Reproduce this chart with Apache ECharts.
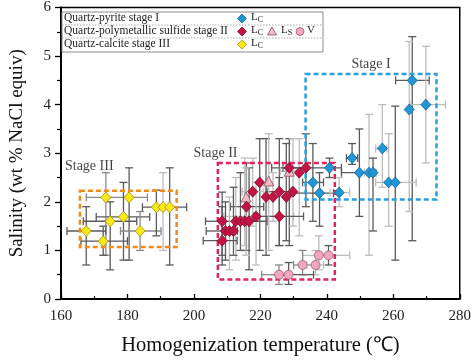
<!DOCTYPE html>
<html><head><meta charset="utf-8">
<script src="https://cdn.jsdelivr.net/npm/echarts@6/dist/echarts.min.js"></script>
<style>html,body{margin:0;padding:0;background:#fff}#c{width:474px;height:361px}</style>
</head><body><div id="c"></div>
<script>
// ---- axis ----
const xMin = 160, xMax = 280, xStep = 20;
const yMin = 0, yMax = 6, yStep = 1;
const xTitle = 'Homogenization temperature (℃)';
const yTitle = 'Salinity (wt % NaCl equiv)';

// ---- Stage I (quartz-pyrite), L_C ----
const s1T = [265.7, 264.8, 269.8, 256.7, 247.6, 240.8, 235.8, 237.8, 243.7, 249.8, 252.7, 253.9, 258.6, 260.6];
const s1S = [4.5, 3.9, 4.0, 3.1, 2.9, 2.7, 2.4, 2.18, 2.19, 2.6, 2.6, 2.6, 2.4, 2.4];
// [Tlow, Thigh, Slow, Shigh, shade]
const s1Err = [[260.7,270.8,1.2,5.4,'d'],[null,null,1.8,5.3,'l'],[265,275.7,2.8,5.2,'l'],[254.7,258.1,2.3,4.0,'l'],
  [245.9,249.3,2.77,3.2,'d'],[226.8,244.4,2.5,2.9,'d'],[232.7,239,1.6,3.2,'d'],[229.2,242,1.5,2.6,'d'],
  [241,246.9,1.9,2.5,'l'],[244.4,254.7,1.7,3.5,'d'],[251.3,254.7,0.9,3.8,'l'],[null,null,1.4,2.9,'d'],
  [254.7,266.9,1.5,3.4,'l'],[null,null,0.8,3.97,'d']];

// ---- Stage II (quartz-polymetallic sulfide), L_C ----
const s2T = [228.7, 231.7, 233.7, 219.8, 217.7, 221.7, 223.8, 225.7, 227.8, 229.8, 215.8, 218.7, 225.7, 208.5, 212.6, 214.0, 215.3, 216.6, 209.5, 210.7, 211.9, 208.5];
const s2S = [2.7, 2.6, 2.7, 2.4, 2.21, 2.1, 2.1, 2.21, 2.1, 2.21, 1.9, 1.7, 1.7, 1.6, 1.6, 1.6, 1.6, 1.6, 1.4, 1.4, 1.4, 1.2];
const s2Err = [[223.4,234.1,1.1,3.3,'d'],[null,null,1.3,3.3,'l'],[null,null,1.9,3.4,'d'],[null,null,1.0,3.3,'d'],
  [214.5,221,1.5,2.9,'l'],[null,null,0.9,3.3,'d'],[null,null,1.6,2.6,'l'],[222,229.4,1.1,3.3,'d'],
  [null,null,1.2,3.2,'d'],[null,null,1.5,3.3,'l'],[211,221,1.0,2.8,'d'],[209,230,0.7,2.4,'l'],
  [218,233,1.1,2.5,'d'],[203.5,212,0.9,2.2,'d'],[null,null,0.8,2.5,'l'],[null,null,1.0,2.6,'d'],
  [null,null,1.1,2.9,'l'],[212,222,0.6,2.7,'d'],[203.7,213.1,0.8,2.0,'d'],[null,null,0.6,2.1,'l'],
  [null,null,0.9,2.3,'d'],[202.8,213,0.7,1.9,'d']];
// Stage II, L_S
const lsT = [228.7, 222.5, 215.7];
const lsS = [2.63, 2.43, 2.1];
const lsErr = [[226,231.5,null,null,'l'],[null,null,1.0,3.4,'l'],[null,null,0.9,2.7,'l']];
// Stage II, V
const vT = [237.6, 240.5, 232.7, 236.6, 225.6, 228.5];
const vS = [0.9, 0.9, 0.7, 0.7, 0.5, 0.5];
const vErr = [[232.7,246.9,0.6,1.3,'l'],[null,null,0.7,1.1,'d'],[230,236,0.5,1.0,'m'],[234,239,0.5,1.0,'l'],
  [220.4,229.2,0.3,0.7,'m'],[225,236,0.3,0.75,'d']];

// ---- Stage III (quartz-calcite), L_C ----
const s3T = [173.5, 180.5, 178.8, 174.8, 167.6, 183.8, 172.7, 188.7, 190.7, 192.7];
const s3S = [2.09, 2.09, 1.69, 1.6, 1.4, 1.4, 1.19, 1.89, 1.89, 1.89];
const s3Err = [[167.6,186,0.9,2.6,'m'],[null,null,0.8,2.7,'d'],[170.6,186.7,0.8,2.4,'d'],[166.7,182.8,0.6,2.0,'d'],
  [161.8,173.5,0.7,1.9,'d'],[177.9,190.1,1.0,1.8,'m'],[166,180,0.9,1.5,'d'],[184.5,197.8,1.3,2.24,'d'],
  [null,null,1.0,2.6,'l'],[null,null,0.7,2.7,'d']];

// ---- stage boxes [Tmin, Smin, Tmax, Smax] and labels ----
const boxNames = ['Stage I', 'Stage II', 'Stage III'];
const boxes = [[233.6, 2.05, 273, 4.63], [207.2, 0.4, 242.4, 2.8], [165.7, 1.07, 194.8, 2.23]];
const boxLabelPos = [[253.3, 4.83], [206.5, 3.0], [168.5, 2.74]];

const serif = 'Liberation Serif';
const shade = {d: '#5a5a5a', m: '#8a8a8a', l: '#bdbdbd'};
const boxColors = ['#2a9fe0', '#e0245c', '#f08c1c'];

function errData(T, S, E) { return T.map((t, i) => [t, S[i], E[i][0], E[i][1], E[i][2], E[i][3], E[i][4]]); }

function errSeries(T, S, E) {
  const rows = errData(T, S, E);
  return {
    type: 'custom', z: 1, silent: true,
    data: rows,
    renderItem: function (params, api) {
      const x = api.value(0), y = api.value(1);
      const d = rows[params.dataIndex];
      const col = shade[d[6]];
      const st = {stroke: col, lineWidth: 1.3};
      const ch = [];
      const cap = 4;
      if (d[4] != null) {
        const a = api.coord([x, d[4]]), b = api.coord([x, d[5]]);
        ch.push({type: 'line', shape: {x1: a[0], y1: a[1], x2: b[0], y2: b[1]}, style: st});
        ch.push({type: 'line', shape: {x1: a[0]-cap, y1: a[1], x2: a[0]+cap, y2: a[1]}, style: st});
        ch.push({type: 'line', shape: {x1: b[0]-cap, y1: b[1], x2: b[0]+cap, y2: b[1]}, style: st});
      }
      if (d[2] != null) {
        const a = api.coord([d[2], y]), b = api.coord([d[3], y]);
        ch.push({type: 'line', shape: {x1: a[0], y1: a[1], x2: b[0], y2: b[1]}, style: st});
        ch.push({type: 'line', shape: {x1: a[0], y1: a[1]-cap, x2: a[0], y2: a[1]+cap}, style: st});
        ch.push({type: 'line', shape: {x1: b[0], y1: b[1]-cap, x2: b[0], y2: b[1]+cap}, style: st});
      }
      return {type: 'group', children: ch};
    }
  };
}

function pts(T, S) { return T.map((t, i) => [t, S[i]]); }

const boxSeries = {
  type: 'custom', z: 2, silent: true,
  data: boxes.map((b, i) => [b[0], b[1], b[2], b[3], i]),
  renderItem: function (params, api) {
    const b = boxes[params.dataIndex];
    const p1 = api.coord([b[0], b[3]]), p2 = api.coord([b[2], b[1]]);
    return {type: 'rect', shape: {x: p1[0], y: p1[1], width: p2[0]-p1[0], height: p2[1]-p1[1]},
      style: {fill: 'none', stroke: boxColors[params.dataIndex], lineWidth: 2.5, lineDash: [5, 3]}};
  }
};

const labelSeries = {
  type: 'scatter', z: 3, symbolSize: 0, silent: true,
  data: boxLabelPos.map((p, i) => ({value: p, name: boxNames[i]})),
  label: {show: true, position: 'inside', formatter: '{b}', fontFamily: serif, fontSize: 14, color: '#111'}
};

function diamond(cx, cy, r, fill, stroke) {
  return {type: 'polygon', shape: {points: [[cx, cy-r], [cx+r, cy], [cx, cy+r], [cx-r, cy]]}, style: {fill: fill, stroke: stroke, lineWidth: 0.8}};
}
function lsub(x, y, main, sub) {
  return {type: 'text', left: x, top: y - 7, style: {text: '{a|' + main + '}{b|' + sub + '}', rich: {
    a: {fontFamily: serif, fontSize: 11, fill: '#222'}, b: {fontFamily: serif, fontSize: 8, fill: '#222', padding: [6, 0, 0, 0]}}}};
}
const rowY = [18.5, 31.5, 44.5];
const legendGraphics = [
  {type: 'rect', shape: {x: 62, y: 12, width: 261, height: 40}, style: {fill: '#fff', stroke: '#8c8c8c', lineWidth: 1}, z: 10},
  {type: 'line', shape: {x1: 62, y1: 25, x2: 323, y2: 25}, style: {stroke: '#999', lineWidth: 0.8, lineDash: [1.5, 1.5]}, z: 11},
  {type: 'line', shape: {x1: 62, y1: 38, x2: 323, y2: 38}, style: {stroke: '#999', lineWidth: 0.8, lineDash: [1.5, 1.5]}, z: 11},
  {type: 'text', left: 64, top: rowY[0]-7, style: {text: 'Quartz-pyrite stage I', font: '11.5px "Liberation Serif"', fill: '#222'}, z: 11},
  {type: 'text', left: 64, top: rowY[1]-7, style: {text: 'Quartz-polymetallic sulfide stage II', font: '11.5px "Liberation Serif"', fill: '#222'}, z: 11},
  {type: 'text', left: 64, top: rowY[2]-7, style: {text: 'Quartz-calcite stage III', font: '11.5px "Liberation Serif"', fill: '#222'}, z: 11},
  Object.assign(diamond(242, rowY[0], 4.5, '#1f96d6', '#16679a'), {z: 11}),
  Object.assign(diamond(242, rowY[1], 4.5, '#c41446', '#7a0c2c'), {z: 11}),
  Object.assign(diamond(242, rowY[2], 4.5, '#f7e81c', '#a89200'), {z: 11}),
  Object.assign(lsub(251, rowY[0], 'L', 'C'), {z: 11}),
  Object.assign(lsub(251, rowY[1], 'L', 'C'), {z: 11}),
  Object.assign(lsub(251, rowY[2], 'L', 'C'), {z: 11}),
  {type: 'polygon', shape: {points: [[272, rowY[1]-4.5], [276.5, rowY[1]+3.5], [267.5, rowY[1]+3.5]]}, style: {fill: '#f4bcc4', stroke: '#8a5060', lineWidth: 0.8}, z: 11},
  Object.assign(lsub(281, rowY[1], 'L', 'S'), {z: 11}),
  {type: 'circle', shape: {cx: 300, cy: rowY[1], r: 4}, style: {fill: '#f2a6bf', stroke: '#a05a74', lineWidth: 0.8}, z: 11},
  {type: 'text', left: 307, top: rowY[1]-7, style: {text: 'V', font: '11px "Liberation Serif"', fill: '#222'}, z: 11}
];

const chart = echarts.init(document.getElementById('c'), null, {renderer: 'canvas'});
chart.setOption({
  animation: false,
  backgroundColor: '#fff',
  grid: {left: 54, right: 11, top: 5, bottom: 56, show: true, borderColor: '#000', borderWidth: 1.5, backgroundColor: 'transparent'},
  xAxis: {
    type: 'value', min: xMin, max: xMax, interval: xStep,
    name: xTitle, nameLocation: 'middle', nameGap: 36,
    nameTextStyle: {fontFamily: serif, fontSize: 20.5, color: '#111'},
    axisLine: {lineStyle: {color: '#000', width: 2}},
    axisTick: {inside: true, length: 5, lineStyle: {color: '#000', width: 1.3}},
    minorTick: {show: true, splitNumber: 2, length: 3, lineStyle: {color: '#000', width: 1.2}},
    axisLabel: {fontFamily: serif, fontSize: 15, color: '#222', margin: 10},
    splitLine: {show: false}
  },
  yAxis: {
    type: 'value', min: yMin, max: yMax, interval: yStep,
    name: yTitle, nameLocation: 'middle', nameGap: 34, nameRotate: 90,
    nameTextStyle: {fontFamily: serif, fontSize: 19, color: '#111'},
    axisLine: {lineStyle: {color: '#000', width: 2}},
    axisTick: {inside: false, length: 6, lineStyle: {color: '#000', width: 1.3}},
    minorTick: {show: true, splitNumber: 2, length: 4, lineStyle: {color: '#000', width: 1.2}},
    axisLabel: {fontFamily: serif, fontSize: 15, color: '#222', margin: 10},
    splitLine: {show: false}
  },
  graphic: legendGraphics,
  series: [
    errSeries(s3T, s3S, s3Err),
    errSeries(s2T, s2S, s2Err),
    errSeries(lsT, lsS, lsErr),
    errSeries(vT, vS, vErr),
    errSeries(s1T, s1S, s1Err),
    boxSeries,
    labelSeries,
    {type: 'scatter', z: 5, data: pts(vT, vS), symbol: 'circle', symbolSize: 9, itemStyle: {color: '#f2a6bf', borderColor: '#a05a74', borderWidth: 0.8, opacity: 1}},
    {type: 'scatter', z: 5, data: pts(lsT, lsS), symbol: 'triangle', symbolSize: 10, itemStyle: {color: '#f4bcc4', borderColor: '#8a5060', borderWidth: 0.8, opacity: 1}},
    {type: 'scatter', z: 6, data: pts(s2T, s2S), symbol: 'diamond', symbolSize: [10, 11], itemStyle: {color: '#c41446', borderColor: '#7a0c2c', borderWidth: 0.8, opacity: 1}},
    {type: 'scatter', z: 6, data: pts(s1T, s1S), symbol: 'diamond', symbolSize: [10, 11], itemStyle: {color: '#1f96d6', borderColor: '#16679a', borderWidth: 0.8, opacity: 1}},
    {type: 'scatter', z: 6, data: pts(s3T, s3S), symbol: 'diamond', symbolSize: [10, 11], itemStyle: {color: '#f7e81c', borderColor: '#a89200', borderWidth: 0.8, opacity: 1}}
  ]
});
</script>
</body></html>
